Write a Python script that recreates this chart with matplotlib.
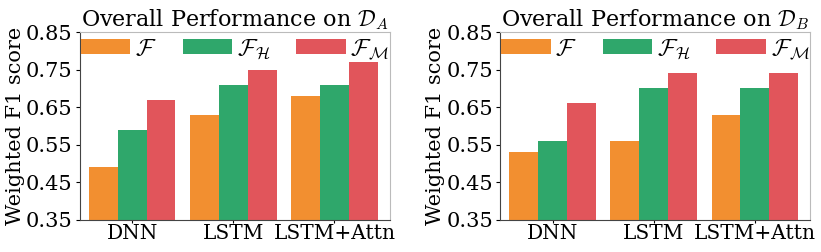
import matplotlib
matplotlib.use("Agg")
import matplotlib.pyplot as plt
import numpy as np

plt.rcParams['font.family'] = 'DejaVu Serif'
plt.rcParams['mathtext.fontset'] = 'cm'

categories = ["DNN", "LSTM", "LSTM+Attn"]
series_labels = [r"$\mathcal{F}$", r"$\mathcal{F}_{\mathcal{H}}$", r"$\mathcal{F}_{\mathcal{M}}$"]
colors = ["#f28f30", "#2fa76b", "#e1555b"]

titles = [r"Overall Performance on $\mathcal{D}_A$", r"Overall Performance on $\mathcal{D}_B$"]

a_F = [0.49, 0.63, 0.68]
a_FH = [0.59, 0.71, 0.71]
a_FM = [0.67, 0.75, 0.77]

b_F = [0.53, 0.56, 0.63]
b_FH = [0.56, 0.70, 0.70]
b_FM = [0.66, 0.74, 0.74]

yticks = [0.35, 0.45, 0.55, 0.65, 0.75, 0.85]

fig = plt.figure(figsize=(8.21, 2.52), dpi=100)
axes = [fig.add_axes([0.097, 0.127, 0.378, 0.746]),
        fig.add_axes([0.609, 0.127, 0.378, 0.746])]

data = [[a_F, a_FH, a_FM], [b_F, b_FH, b_FM]]
x = np.arange(len(categories))
w = 0.285
for ax, d, t in zip(axes, data, titles):
    for i, (vals, lab, c) in enumerate(zip(d, series_labels, colors)):
        ax.bar(x + (i - 1) * w, vals, width=w, color=c, label=lab)
    ax.set_ylim(0.35, 0.85)
    ax.set_xlim(-0.52, 2.55)
    ax.set_yticks(yticks)
    ax.set_yticklabels([f"{v:.2f}" for v in yticks], fontsize=15)
    ax.set_xticks(x)
    ax.set_xticklabels(categories, fontsize=14.5)
    ax.tick_params(axis='x', length=2, pad=1)
    ax.tick_params(axis='y', length=3, pad=2)
    ax.set_ylabel("Weighted F1 score", fontsize=15, labelpad=1)
    ax.set_title(t, fontsize=16, pad=1)
    for s in ['top', 'right']:
        ax.spines[s].set_color('#bbbbbb')
    for s in ['left', 'bottom']:
        ax.spines[s].set_color('#444444')
    ax.legend(loc='upper center', ncol=3, frameon=False, fontsize=17,
              handlelength=2.1, handleheight=0.6, columnspacing=1.1,
              handletextpad=0.2, borderaxespad=0.0, borderpad=0.2,
              bbox_to_anchor=(0.5, 1.0))

fig.savefig("out.png", dpi=100)
